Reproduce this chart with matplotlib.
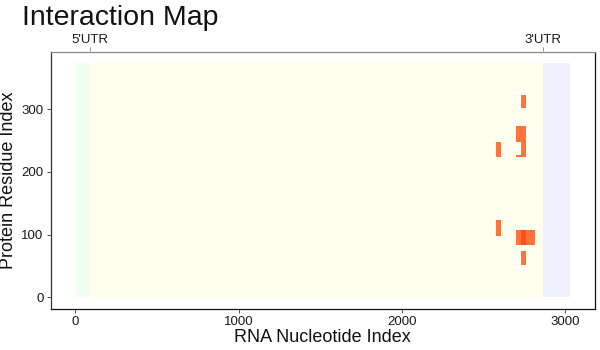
import matplotlib
matplotlib.use("Agg")
import matplotlib.pyplot as plt
from matplotlib.patches import Rectangle

plt.rcParams['font.family'] = ['Liberation Sans', 'DejaVu Sans']

# Transcript regions (nucleotide start, end) and protein length
region_names = ["5'UTR", "CDS", "3'UTR"]
region_start = [0, 92, 2862]
region_end = [92, 2862, 3030]
region_colors = ["#F0FFF2", "#FFFFF0", "#F0F0FF"]
protein_length = 373

# Interaction tiles: RNA start/end, protein start/end
rna_start = [2728, 2697, 2728, 2697, 2575, 2575, 2697, 2728, 2728]
rna_end   = [2758, 2758, 2758, 2728, 2606, 2606, 2758, 2813, 2758]
prot_start = [302, 247, 223, 223, 223, 98, 83, 83, 51]
prot_end   = [322, 273, 247, 227, 247, 123, 108, 108, 73]

x_ticks = [0, 1000, 2000, 3000]
y_ticks = [0, 100, 200, 300]
top_tick_pos = [92, 2862]
top_tick_labels = ["5'UTR", "3'UTR"]

fig = plt.figure(figsize=(6, 3.5), dpi=100)
ax = fig.add_axes([50.5/600, 1-309/350, (595-50.5)/600, (309-51.5)/350])

for s, e, c in zip(region_start, region_end, region_colors):
    ax.add_patch(Rectangle((s, 0), e - s, protein_length, facecolor=c, edgecolor='none', zorder=1))

for xs, xe, ys, ye in zip(rna_start, rna_end, prot_start, prot_end):
    ax.add_patch(Rectangle((xs, ys), xe - xs, ye - ys, facecolor='#FF4500', alpha=0.75,
                           edgecolor='none', zorder=2))

xmax = max(region_end)
ax.set_xlim(-0.05 * xmax, xmax * 1.05)
ax.set_ylim(-0.05 * protein_length, protein_length * 1.05)

ax.set_xticks(x_ticks)
ax.set_yticks(y_ticks)
ax.tick_params(axis='both', labelsize=9.5, length=3, width=0.6, colors='#333333', labelcolor='#1a1a1a', pad=2)

for side, col in [('left', '#333333'), ('bottom', '#111111'), ('top', '#888888'), ('right', '#111111')]:
    ax.spines[side].set_color(col)
    ax.spines[side].set_linewidth(0.9)

sec = ax.secondary_xaxis('top')
sec.set_xticks(top_tick_pos)
sec.set_xticklabels(top_tick_labels)
sec.tick_params(labelsize=9.5, length=3, width=0.6, colors='#888888', labelcolor='#1a1a1a', pad=1)
sec.spines['top'].set_visible(False)

ax.set_xlabel("RNA Nucleotide Index", fontsize=13, color='#111111', labelpad=1)
ax.set_ylabel("Protein Residue Index", fontsize=13, color='#111111', labelpad=3)
fig.text(22/600, 1-18/350, "Interaction Map", fontsize=20.5, va='center', ha='left', color='#111111')

fig.savefig("out.png", dpi=100)
